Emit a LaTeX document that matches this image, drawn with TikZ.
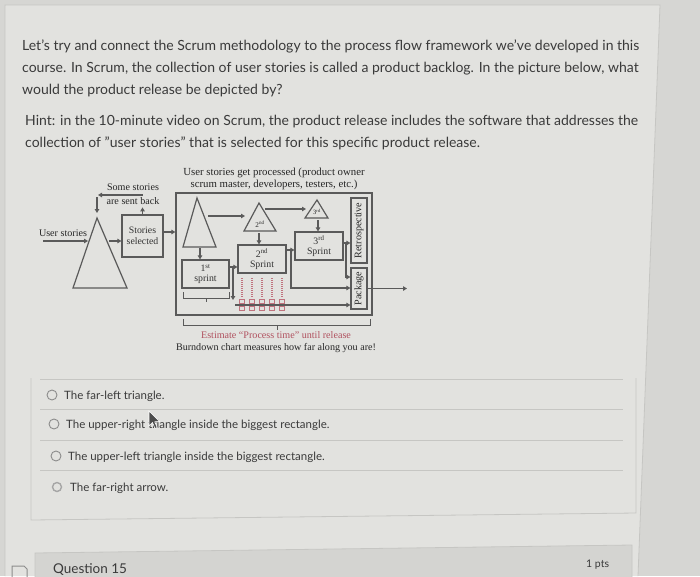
\documentclass[tikz,border=0pt]{standalone}
\usepackage{fontspec}
\setmainfont{Lato}
\newfontfamily\serif{Liberation Serif}
\usetikzlibrary{arrows.meta,calc}
\definecolor{bg}{HTML}{D6D6D3}
\definecolor{panel}{HTML}{E2E2DF}
\definecolor{txt}{HTML}{3A3A3A}
\definecolor{dline}{HTML}{5A5A5A}
\definecolor{redt}{HTML}{B0505E}
\definecolor{sep}{HTML}{C6C6C3}
\definecolor{qbox}{HTML}{D4D4D1}
\tikzset{
  para/.style={anchor=base west, inner sep=0pt, text=txt, font=\fontsize{14}{16}\selectfont},
  ans/.style={anchor=base west, inner sep=0pt, text=txt, font=\fontsize{11.5}{13}\selectfont},
  dtext/.style={inner sep=0pt, text=black!85, font=\serif\fontsize{10.1}{11.5}\selectfont},
  boxn/.style={draw=dline, line width=1.2pt, rectangle, inner sep=0pt, align=center, text=black!80, font=\serif\fontsize{9.8}{11}\selectfont},
  tri/.style={draw=dline, line width=1.2pt, line join=miter},
  ln/.style={draw=dline, line width=1.1pt},
  arr/.style={draw=dline, line width=1.1pt, -{Triangle[length=4pt,width=4.5pt]}},
  radio/.style={draw=black!45, line width=0.9pt},
}
\begin{document}
\begin{tikzpicture}[x=1pt,y=-1pt]
\useasboundingbox (0,0) rectangle (700,576);
\clip (0,0) rectangle (700,576);
\fill[bg] (0,0) rectangle (700,576);
\fill[panel] (5,5) -- (660,5) -- (638,576) -- (5,576) -- cycle;
\draw[sep, line width=0.8pt] (5,576) -- (5,5) -- (660,5) -- (638,576);
% question text
\node[para] (l1) at (22,50) {Let's try and connect the Scrum methodology to the process flow framework we've developed in this};
\node[para] (l2) at (22,72) {course. In Scrum, the collection of user stories is called a product backlog. In the picture below, what};
\node[para] (l3) at (22,94) {would the product release be depicted by?};
\node[para] (h1) at (25,125) {Hint: in the 10-minute video on Scrum, the product release includes the software that addresses the};
\node[para] (h2) at (25,147) {collection of "user stories" that is selected for this specific product release.};
% ---------- diagram ----------
% left part
\node[dtext] (us) at (63,233) {User stories};
\coordinate (T0a) at (97,218);
\coordinate (T0bl) at (73,288);
\coordinate (T0br) at (127,288);
\draw[tri] (T0a) -- (T0bl) -- (T0br) -- cycle;
\coordinate (usS) at (43,241);
\coordinate (T0l) at (88,241);
\draw[arr] (usS) -- (T0l);
\node[boxn, minimum width=41pt, minimum height=42pt] (sel) at (142.5,236) {Stories\\selected};
\coordinate (T0r) at (109,241);
\draw[arr] (T0r) -- (T0r -| sel.west);
\coordinate (sb1) at (142.5,195);
\coordinate (sb2) at (98,195);
\draw[arr] (sel.north) -- ++(0,-7);
\draw[arr] (sb1) -- (sb2);
\coordinate (sb3) at (97,197);
\draw[arr] (sb3) -- ($(T0a)+(0,-5)$);
\node[dtext] (some) at (133,187) {Some stories};
\node[dtext] (back) at (133,201) {are sent back};
% big rectangle
\node[dtext, align=center, font=\serif\fontsize{10.8}{12}\selectfont] (title) at (274,179) {User stories get processed (product owner\\scrum master, developers, testers, etc.)};
\node[draw=dline, line width=1.3pt, minimum width=196pt, minimum height=122pt, inner sep=0pt] (big) at (274,254) {};
\coordinate (s0) at ($(sel.east)+(0,-4)$);
\draw[arr] (s0) -- (s0 -| big.west);
% inner triangles
\coordinate (T1a) at (197,198);
\coordinate (T1bl) at (183,247);
\coordinate (T1br) at (216,247);
\draw[tri] (T1a) -- (T1bl) -- (T1br) -- cycle;
\coordinate (T2a) at (259,203);
\coordinate (T2bl) at (244,231);
\coordinate (T2br) at (276,231);
\draw[tri] (T2a) -- (T2bl) -- (T2br) -- cycle;
\node[dtext, font=\serif\fontsize{7.2}{8}\selectfont] (T2t) at (260,224) {2\textsuperscript{nd}};
\coordinate (T3a) at (317,200);
\coordinate (T3bl) at (305,218);
\coordinate (T3br) at (328,218);
\draw[tri] (T3a) -- (T3bl) -- (T3br) -- cycle;
\node[dtext, font=\serif\fontsize{6.5}{7}\selectfont] (T3t) at (317,212) {3\textsuperscript{rd}};
% sprint boxes
\node[boxn, minimum width=47pt, minimum height=28pt] (s1) at (205.5,274) {1\textsuperscript{st}\\[-1pt]sprint};
\node[boxn, minimum width=48pt, minimum height=28pt] (s2) at (262,259) {2\textsuperscript{nd}\\[-1pt]Sprint};
\node[boxn, minimum width=48pt, minimum height=28pt] (s3) at (319,246) {3\textsuperscript{rd}\\[-1pt]Sprint};
\node[boxn, minimum width=16pt, minimum height=65pt] (rt) at (359,230.5) {};
\node[dtext, rotate=90] (rtt) at (rt.center) {Retrospective};
\node[boxn, minimum width=16pt, minimum height=41pt] (pk) at (359,288.5) {};
\node[dtext, rotate=90] (pkt) at (pk.center) {Package};
% connectors
\coordinate (c12) at (208,216);
\coordinate (c12e) at (245,216);
\draw[arr] (c12) -- (c12e);
\coordinate (c23) at (265,209);
\coordinate (c23e) at (306,209);
\draw[arr] (c23) -- (c23e);
\coordinate (d3) at (318,220);
\draw[arr] (d3) -- (d3 |- s3.north);
\coordinate (d2) at (259,233);
\draw[arr] (d2) -- (d2 |- s2.north);
\coordinate (d1) at (200,248);
\draw[arr] (d1) -- (d1 |- s1.north);
\coordinate (j1) at (229,267);
\draw[arr] (j1) -- (j1 -| s2.west);
\coordinate (v1) at (233,267);
\coordinate (v1e) at (233,300);
\draw[arr] (v1) -- (v1e);
\coordinate (j2) at (286,250);
\draw[arr] (j2) -- (j2 -| s3.west);
\coordinate (v2) at (291,250);
\coordinate (v2e) at (291,288);
\draw[arr] (v2) -- (v2e) -- (v2e -| pk.west);
\coordinate (j3) at (343,243);
\draw[arr] (j3) -- (j3 -| rt.west);
\coordinate (v3) at (346,243);
\coordinate (v3e) at (346,277);
\draw[arr] (v3) -- (v3e) -- (v3e -| pk.west);
\coordinate (out) at (407,288.5);
\draw[arr] (pk.east) -- (out);
% small brace under 1st sprint
\draw[ln, line width=0.9pt] (183,292) -- (183,298) -- (229,298) -- (229,292);
\draw[ln, line width=0.9pt] (206,298) -- (206,302);
% red marks under 2nd sprint
\foreach \xx in {242,252,262,272,282}{
  \draw[redt!80, line width=1.3pt, dash pattern=on 1.2pt off 0.8pt] (\xx,278) -- (\xx,297);
  \draw[redt!80, line width=0.7pt] (\xx-2.5,299) rectangle (\xx+2.5,303);
  \draw[redt!80, line width=0.7pt] (\xx-2.5,306) rectangle (\xx+2.5,310);
}
\coordinate (h1) at (235,305);
\draw[arr] (h1) -- (h1 -| pk.west);
% big brace
\draw[ln, line width=1pt] (183,319) -- (183,325) -- (370,325) -- (370,319);
\draw[ln, line width=1pt] (277,325) -- (277,330);
\node[dtext, text=redt] (est) at (276,335) {Estimate “Process time” until release};
\node[dtext] (burn) at (276,348) {Burndown chart measures how far along you are!};
% ---------- answers ----------
\draw[sep, line width=0.8pt] (31,378) -- (31,520) -- (636,513) -- (636,378);
\foreach \yy in {379,409,440,470}{
  \draw[sep, line width=0.8pt] (40,\yy) -- (623,\yy);
}
\draw[radio] (52,395) circle (5pt);
\draw[radio] (54,424) circle (5pt);
\draw[radio] (56,456) circle (5pt);
\draw[radio, line width=1.4pt, draw=black!35] (57,487) circle (4.5pt);
\node[ans] (a1) at (64,399) {The far-left triangle.};
\node[ans] (a2) at (66,428) {The upper-right triangle inside the biggest rectangle.};
\node[ans] (a3) at (68,460) {The upper-left triangle inside the biggest rectangle.};
\node[ans] (a4) at (70,491) {The far-right arrow.};
% cursor
\filldraw[fill=black!70, draw=white, line width=0.6pt] (149,411) -- (149,426) -- (152.5,422.5) -- (155,428.5) -- (157.2,427.6) -- (154.7,421.8) -- (159.5,421.5) -- cycle;
% ---------- next question ----------
\filldraw[fill=qbox, draw=sep, line width=0.8pt] (35,580) -- (35,553) -- (632,545) -- (632,580);
\node[anchor=base west, inner sep=0pt, text=txt, font=\fontsize{13.5}{15}\selectfont] (q15) at (53,573.5) {Question 15};
\node[anchor=base west, inner sep=0pt, text=txt, font=\fontsize{10.5}{12}\selectfont] (pts) at (586,567) {1 pts};
\draw[black!45, line width=1pt] (12,577) -- (12,566) -- (24,566) -- (27,569) -- (27,577);
\end{tikzpicture}
\end{document}
